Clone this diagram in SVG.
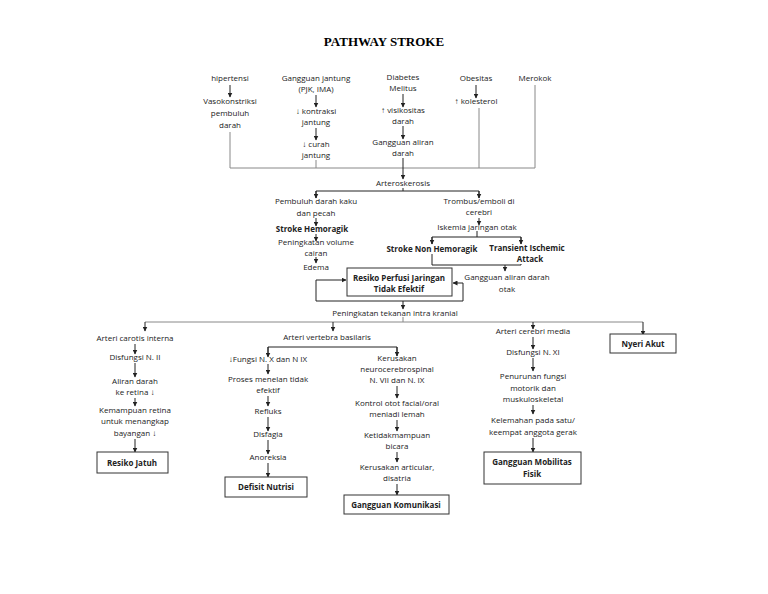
<svg xmlns="http://www.w3.org/2000/svg" width="768" height="594" viewBox="0 0 768 594">
<style>
text{font-family:"Open Sans","Liberation Sans",sans-serif;font-size:8px;fill:#222;text-anchor:middle}
.b{font-weight:bold}
.t{font-family:"Liberation Serif",serif;font-size:13px;font-weight:bold;fill:#000}
.l{stroke:#222;stroke-width:1;fill:none}
.g{stroke:#888;stroke-width:1;fill:none}
.a{stroke:#222;stroke-width:1;fill:none;marker-end:url(#ah)}
rect{fill:#fff;stroke:#333;stroke-width:1}
</style>
<defs><marker id="ah" viewBox="0 0 10 10" refX="9" refY="5" markerWidth="5" markerHeight="5" orient="auto"><path d="M0,0L10,5L0,10z" fill="#222"/></marker></defs>
<rect x="0" y="0" width="768" height="594" style="stroke:none"/>
<text class="t" x="384" y="46">PATHWAY STROKE</text>
<g id="connectors">
<path class="a" d="M230,85V97"/><path class="a" d="M316,95V107"/><path class="a" d="M316,128V140"/>
<path class="a" d="M403,94V107"/><path class="a" d="M403,126V139"/><path class="a" d="M476,85V98"/>
<path class="g" d="M230,132V168H535V85M316,160V168M479,108V168"/>
<path class="a" d="M403,158V179"/>
<path class="l" d="M403,188V191M316,198V191H479V198"/>
<path class="a" d="M316,191V198"/><path class="a" d="M479,191V198"/>
<path class="a" d="M316,218V226"/><path class="a" d="M316,234V241"/><path class="a" d="M316,257V263"/>
<path class="a" d="M479,218V225"/>
<path class="l" d="M477,231V237M432,244V237H521V244"/>
<path class="a" d="M432,237V244"/><path class="a" d="M521,237V244"/>
<path class="l" d="M432,254V265H521V264"/><path class="a" d="M505,265V271"/>
<path class="a" d="M316,280H346"/>
<path class="l" d="M316,280V301H463V283"/><path class="a" d="M463,283H453"/>
<path class="a" d="M403,301V309"/>
<path class="g" d="M403,317V322M145,322H643"/>
<path class="a" d="M145,322V331"/><path class="a" d="M333,322V331"/><path class="a" d="M533,322V329"/><path class="a" d="M643,322V335"/>
<path class="a" d="M135,344V354"/><path class="a" d="M135,363V377"/><path class="a" d="M135,398V406"/><path class="a" d="M135,439V452"/>
<path class="l" d="M268,356V347H397V356"/><path class="a" d="M268,347V357"/><path class="a" d="M397,347V356"/>
<path class="a" d="M268,364V374"/><path class="a" d="M268,396V406"/><path class="a" d="M268,417V431"/><path class="a" d="M268,440V454"/><path class="a" d="M268,463V477"/>
<path class="a" d="M397,386V398"/><path class="a" d="M397,420V431"/><path class="a" d="M397,452V462"/><path class="a" d="M397,484V495"/>
<path class="a" d="M533,337V349"/><path class="a" d="M533,358V371"/><path class="a" d="M533,405V414"/><path class="a" d="M533,438V452"/>
</g>
<g id="top">
<text x="230" y="81">hipertensi</text>
<text x="230" y="104">Vasokonstriksi</text><text x="230" y="116">pembuluh</text><text x="230" y="128">darah</text>
<text x="316" y="81">Gangguan jantung</text><text x="316" y="92">(PJK, IMA)</text>
<text x="316" y="114">↓ kontraksi</text><text x="316" y="125">jantung</text>
<text x="316" y="147">↓ curah</text><text x="316" y="158">jantung</text>
<text x="403" y="80">Diabetes</text><text x="403" y="91">Melitus</text>
<text x="403" y="113">↑ visikositas</text><text x="403" y="124">darah</text>
<text x="403" y="145">Gangguan aliran</text><text x="403" y="156">darah</text>
<text x="476" y="81">Obesitas</text><text x="476" y="104">↑ kolesterol</text>
<text x="535" y="81">Merokok</text>
<text x="403" y="186">Arteroskerosis</text>
</g>
<g id="mid">
<text x="316" y="204">Pembuluh darah kaku</text><text x="316" y="216">dan pecah</text>
<text class="b" x="312" y="232">Stroke Hemoragik</text>
<text x="316" y="245">Peningkatan volume</text><text x="316" y="256">cairan</text><text x="316" y="270">Edema</text>
<text x="479" y="204">Trombus/emboli di</text><text x="479" y="215">cerebri</text>
<text x="477" y="230">Iskemia jaringan otak</text>
<text class="b" x="432" y="252">Stroke Non Hemoragik</text>
<text class="b" x="527" y="251">Transient Ischemic</text><text class="b" x="530" y="262">Attack</text>
<text x="507" y="280">Gangguan aliran darah</text><text x="507" y="292">otak</text>
<text x="395" y="316">Peningkatan tekanan intra kranial</text>
</g>
<g id="resiko-perfusi"><rect x="347" y="268" width="105" height="28"/><text class="b" x="399" y="281">Resiko Perfusi Jaringan</text><text class="b" x="399" y="292">Tidak Efektif</text></g>
<g id="col1">
<text x="135" y="341">Arteri carotis interna</text><text x="135" y="360">Disfungsi N. II</text>
<text x="135" y="384">Aliran darah</text><text x="135" y="395">ke retina ↓</text>
<text x="135" y="413">Kemampuan retina</text><text x="135" y="424">untuk menangkap</text><text x="135" y="436">bayangan ↓</text>
</g>
<g id="resiko-jatuh"><rect x="97" y="452" width="71" height="21"/><text class="b" x="132" y="466">Resiko Jatuh</text></g>
<g id="col2">
<text x="327" y="340">Arteri vertebra basilaris</text>
<text x="268" y="362">↓Fungsi N. X dan N IX</text>
<text x="268" y="382">Proses menelan tidak</text><text x="268" y="393">efektif</text>
<text x="268" y="414">Refluks</text><text x="268" y="437">Disfagia</text><text x="268" y="460">Anoreksia</text>
</g>
<g id="defisit-nutrisi"><rect x="225" y="477" width="82" height="20"/><text class="b" x="266" y="490">Defisit Nutrisi</text></g>
<g id="col3">
<text x="397" y="361">Kerusakan</text><text x="397" y="372">neurocerebrospinal</text><text x="397" y="383">N. VII dan N. IX</text>
<text x="397" y="406">Kontrol otot facial/oral</text><text x="397" y="417">meniadi lemah</text>
<text x="397" y="438">Ketidakmampuan</text><text x="397" y="449">bicara</text>
<text x="397" y="470">Kerusakan articular,</text><text x="397" y="481">disatria</text>
</g>
<g id="gangguan-komunikasi"><rect x="344" y="495" width="105" height="19"/><text class="b" x="396" y="508">Gangguan Komunikasi</text></g>
<g id="col4">
<text x="533" y="334">Arteri cerebri media</text><text x="533" y="355">Disfungsi N. XI</text>
<text x="533" y="379">Penurunan fungsi</text><text x="533" y="391">motorik dan</text><text x="533" y="402">muskuloskeletal</text>
<text x="533" y="423">Kelemahan pada satu/</text><text x="533" y="435">keempat anggota gerak</text>
</g>
<g id="gangguan-mobilitas"><rect x="484" y="452" width="97" height="32"/><text class="b" x="532" y="465">Gangguan Mobilitas</text><text class="b" x="532" y="477">Fisik</text></g>
<g id="nyeri-akut"><rect x="610" y="334" width="66" height="19"/><text class="b" x="643" y="347">Nyeri Akut</text></g>
</svg>
